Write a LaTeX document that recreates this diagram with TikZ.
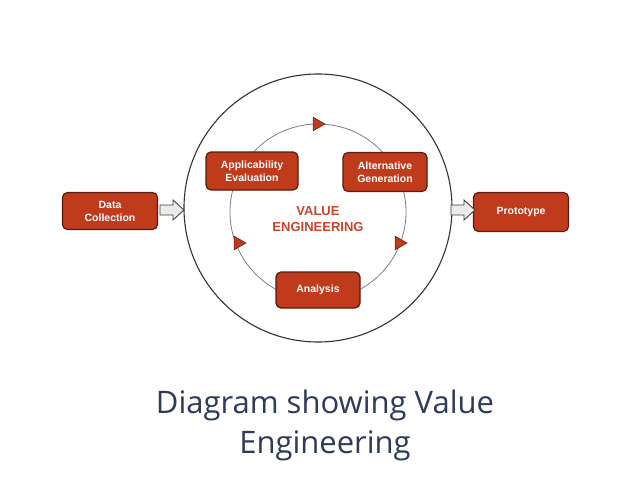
\documentclass[tikz,border=0pt]{standalone}
\usepackage{fontspec}
\setmainfont{Liberation Sans}
\newfontfamily\titlefont{Open Sans}
\usetikzlibrary{shapes.geometric}
\definecolor{boxred}{HTML}{C03A1C}
\definecolor{boxedge}{HTML}{5A1A0C}
\definecolor{vetext}{HTML}{C8452A}
\definecolor{titleblue}{HTML}{2E3A59}
\tikzset{
  box/.style={draw=boxedge, line width=1.2pt, fill=boxred, rounded corners=5pt, text=white, font=\bfseries\fontsize{10.5}{13}\selectfont, align=center, inner sep=0pt},
  blk/.style={draw=black!75, fill=black!8, line width=0.9pt, line join=miter},
  tri/.style={isosceles triangle, fill=boxred, draw=boxedge, line width=0.5pt, minimum width=12pt, minimum height=12pt, inner sep=0pt, isosceles triangle apex angle=60},
}
\begin{document}
\begin{tikzpicture}[x=1pt,y=-1pt]
\useasboundingbox (0,0) rectangle (638,479);
\fill[white] (0,0) rectangle (638,479);
\draw[line width=1.1pt, black!80] (318,208) circle[radius=134];
\draw[line width=0.8pt, black!50] (318,212) circle[radius=88];
\node[box, minimum width=95pt, minimum height=37pt] (dc) at (110,211) {Data\\Collection};
\node[box, minimum width=95pt, minimum height=39pt] (pt) at (521,212) {Prototype};
\node[box, minimum width=92pt, minimum height=38pt] (ae) at (252,171) {Applicability\\Evaluation};
\node[box, minimum width=84pt, minimum height=39pt] (ag) at (385,172) {Alternative\\Generation};
\node[box, minimum width=84pt, minimum height=36pt] (an) at (318,290) {Analysis};
\node[text=vetext, font=\bfseries\fontsize{13}{16}\selectfont, align=center] (ve) at (318,219) {VALUE\\ENGINEERING};
\coordinate (a1) at (160,210);
\coordinate (a2) at (451,210);
\foreach \c in {a1,a2}
  \draw[blk] ([shift={(0,-5)}]\c) -- ++(13,0) -- ++(0,-5) -- ++(11,10) -- ++(-11,10) -- ++(0,-5) -- ++(-13,0) -- cycle;
\node[tri] (t1) at (317,124) {};
\node[tri] (t2) at (399,243) {};
\node[tri] (t3) at (238,243) {};
\node[text=titleblue, font=\titlefont\fontsize{31}{40}\selectfont, align=center] (title) at (325,425) {Diagram showing Value\\Engineering};
\end{tikzpicture}
\end{document}
